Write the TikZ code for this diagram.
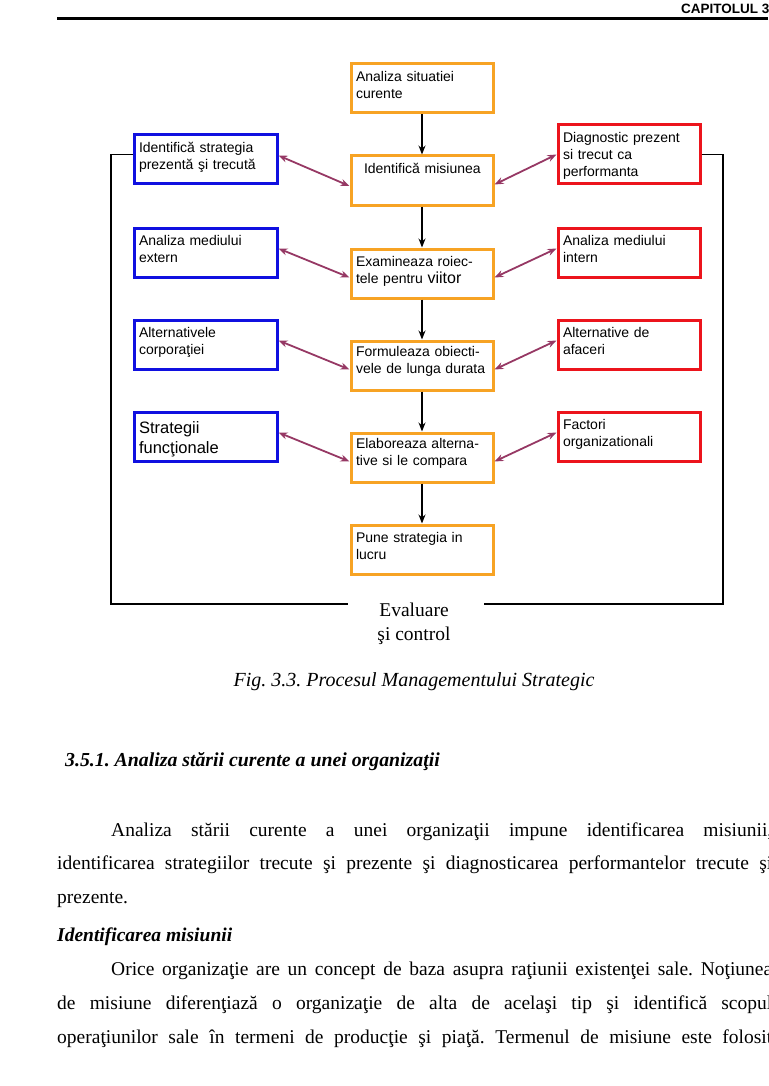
\documentclass[tikz,border=0pt]{standalone}
\usepackage{fontspec}
\setmainfont{Liberation Serif}
\newfontfamily\arial{Liberation Sans}
\usetikzlibrary{arrows.meta}
\definecolor{stageorange}{RGB}{247,163,36}
\definecolor{stratblue}{RGB}{16,16,224}
\definecolor{diagred}{RGB}{236,20,28}
\definecolor{linkpurple}{RGB}{150,56,100}
\frenchspacing

\begin{document}
\begin{tikzpicture}[
    x=1pt, y=-1pt,
    box/.style={draw, line width=3pt, anchor=north west, minimum width=142pt, minimum height=49pt,
        text width=132pt, align=left, inner xsep=5pt, inner ysep=3pt,
        text height=14.5pt, text depth=28.5pt, font=\arial\fontsize{14}{17}\selectfont},
    stage/.style={box, draw=stageorange},
    strat/.style={box, draw=stratblue, minimum width=143pt, text width=133pt},
    diag/.style={box, draw=diagred},
    flow/.style={-{Stealth[length=9pt,width=7pt]}, line width=1.3pt},
    link/.style={{Stealth[length=9pt,width=7pt]}-{Stealth[length=9pt,width=7pt]}, draw=linkpurple, line width=1.8pt},
    body/.style={anchor=base west, inner sep=0pt, font=\fontsize{19.5}{24}\selectfont}
]
    \useasboundingbox (0,0) rectangle (768,1086);

    \node[anchor=base west, inner sep=0pt, font=\arial\bfseries\fontsize{13.5}{16}\selectfont] (chap) at (681,14) {CAPITOLUL 3};
    \fill (57,17) rectangle (768,20);

    \node[stage] (O1) at (349.5,62.5) {Analiza situatiei\\curente};
    \node[stage] (O2) at (349.5,154.5) {\hspace*{8pt}Identifică misiunea};
    \node[stage] (O3) at (349.5,247.5) {Examineaza roiec-\\tele pentru {\fontsize{16}{17}\selectfont viitor}};
    \node[stage, text height=12.5pt, text depth=30.5pt] (O4) at (349.5,339.5) {Formuleaza obiecti-\\vele de lunga durata};
    \node[stage, text height=12.5pt, text depth=30.5pt] (O5) at (349.5,431.5) {Elaboreaza alterna-\\tive si le compara};
    \node[stage] (O6) at (349.5,523.5) {Pune strategia in\\lucru};

    \node[strat] (B1) at (132.5,133.5) {Identifică strategia\\prezentă şi trecută};
    \node[strat] (B2) at (132.5,226.5) {Analiza mediului\\extern};
    \node[strat] (B3) at (132.5,318.5) {Alternativele\\corporaţiei};
    \node[strat, text height=18.5pt, text depth=24.5pt, font=\arial\fontsize{16.5}{20}\selectfont] (B4) at (132.5,410.5) {Strategii\\funcţionale};

    \node[diag, minimum height=59pt, text depth=38.5pt] (R1) at (556.5,123.5) {Diagnostic prezent\\si trecut ca\\performanta};
    \node[diag] (R2) at (556.5,226.5) {Analiza mediului\\intern};
    \node[diag] (R3) at (556.5,318.5) {Alternative de\\afaceri};
    \node[diag] (R4) at (556.5,410.5) {Factori\\organizationali};

    \draw[flow] (O1) -- (O2);
    \draw[flow] (O2) -- (O3);
    \draw[flow] (O3) -- (O4);
    \draw[flow] (O4) -- (O5);
    \draw[flow] (O5) -- (O6);

    \draw[link] ([yshift=4pt]B1.east) -- ([yshift=-5.5pt]O2.west);
    \draw[link] ([yshift=4pt]B2.east) -- ([yshift=-4pt]O3.west);
    \draw[link] ([yshift=4pt]B3.east) -- ([yshift=-4pt]O4.west);
    \draw[link] ([yshift=4pt]B4.east) -- ([yshift=-4pt]O5.west);

    \draw[link] ([yshift=-4pt]O2.east) -- (R1.west);
    \draw[link] ([yshift=-4pt]O3.east) -- ([yshift=4pt]R2.west);
    \draw[link] ([yshift=-4pt]O4.east) -- ([yshift=4pt]R3.west);
    \draw[link] ([yshift=-4pt]O5.east) -- ([yshift=4pt]R4.west);

    \node[anchor=base, align=center, font=\fontsize{19.5}{24}\selectfont] (ctrl) at (414,640) {Evaluare\\şi control};
    \coordinate (evL) at (348,604);
    \coordinate (evR) at (484,604);
    \draw[line width=1.2pt] ([yshift=5pt]B1.west) -- ++(-21.5,0) |- (evL);
    \draw[line width=1.2pt] (R1.east) -- ++(21.5,0) |- (evR);

    \node[anchor=base, inner sep=0pt, font=\itshape\fontsize{20}{24}\selectfont] (cap) at (414,686) {Fig. 3.3. Procesul Managementului Strategic};

    \node[body, font=\bfseries\itshape\fontsize{19.8}{24}\selectfont] (sec) at (65,766) {3.5.1. Analiza stării curente a unei organizaţii};

    \node[body] (p1) at (111,836) {\makebox[661pt][s]{Analiza stării curente a unei organizaţii impune identificarea misiunii,}};
    \node[body] (p2) at (57,869) {\makebox[715pt][s]{identificarea strategiilor trecute şi prezente şi diagnosticarea performantelor trecute şi}};
    \node[body] (p3) at (57,903) {prezente.};
    \node[body, font=\bfseries\itshape\fontsize{19.5}{24}\selectfont] (sub) at (57,941) {Identificarea misiunii};
    \node[body] (p4) at (111,975) {\makebox[661pt][s]{Orice organizaţie are un concept de baza asupra raţiunii existenţei sale. Noţiunea}};
    \node[body] (p5) at (57,1009) {\makebox[715pt][s]{de misiune diferenţiază o organizaţie de alta de acelaşi tip şi identifică scopul}};
    \node[body] (p6) at (57,1043) {\makebox[715pt][s]{operaţiunilor sale în termeni de producţie şi piaţă. Termenul de misiune este folosit}};

\end{tikzpicture}
\end{document}
